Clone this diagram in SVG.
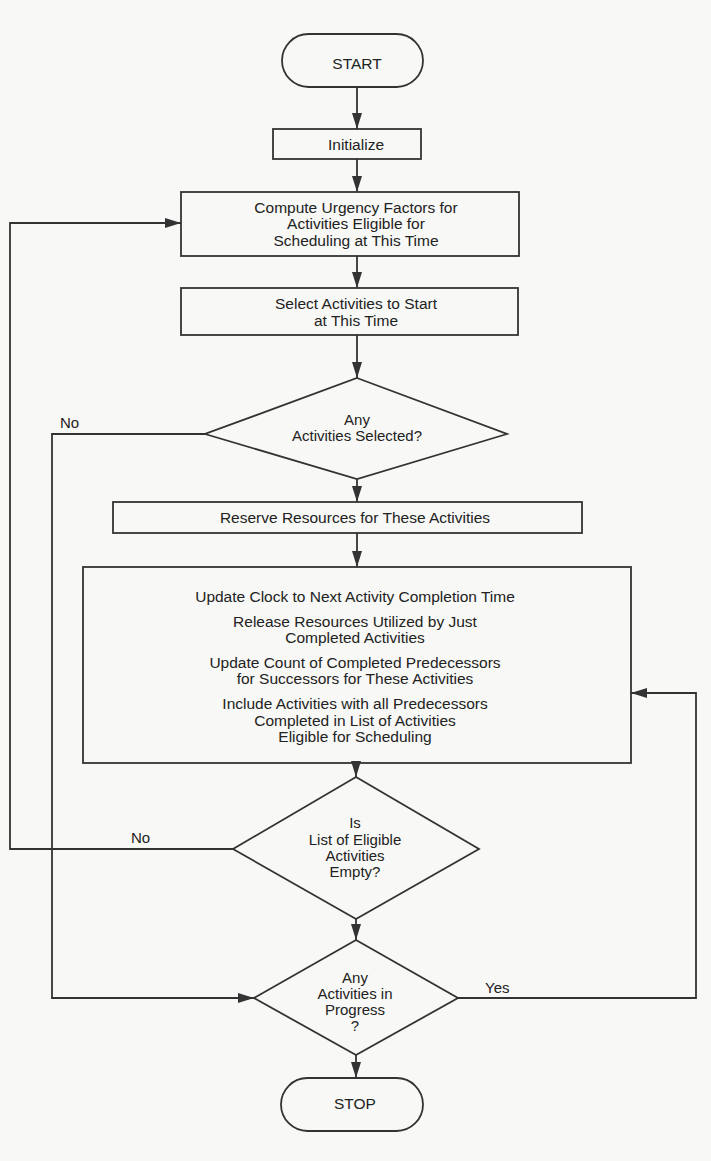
<svg xmlns="http://www.w3.org/2000/svg" width="711" height="1161" viewBox="0 0 711 1161">
<style>
.shape{fill:none;stroke:#333;stroke-width:1.8}
.conn{fill:none;stroke:#333;stroke-width:1.8}
text{font-family:"Liberation Sans",Arial,Helvetica,sans-serif;font-size:15.5px;fill:#222}
.c{text-anchor:middle}
.d{font-size:15px}
</style>
<defs>
<marker id="arr" markerUnits="userSpaceOnUse" markerWidth="18" markerHeight="12" refX="16" refY="5" orient="auto">
<path d="M0,0 L16,5 L0,10 Z" fill="#333"/>
</marker>
</defs>
<rect width="711" height="1161" fill="#f8f8f6"/>
<g id="connectors">
<line class="conn" x1="357" y1="87" x2="357" y2="129" marker-end="url(#arr)"/>
<line class="conn" x1="357" y1="159" x2="357" y2="192" marker-end="url(#arr)"/>
<line class="conn" x1="357" y1="256" x2="357" y2="288" marker-end="url(#arr)"/>
<line class="conn" x1="357" y1="335" x2="357" y2="378" marker-end="url(#arr)"/>
<line class="conn" x1="357" y1="479" x2="357" y2="502" marker-end="url(#arr)"/>
<line class="conn" x1="357" y1="533" x2="357" y2="567" marker-end="url(#arr)"/>
<line class="conn" x1="356" y1="763" x2="356" y2="777" marker-end="url(#arr)"/>
<line class="conn" x1="356" y1="919" x2="356" y2="940" marker-end="url(#arr)"/>
<line class="conn" x1="356" y1="1055" x2="356" y2="1078" marker-end="url(#arr)"/>
<polyline class="conn" points="205,434 52,434 52,998 254,998" marker-end="url(#arr)"/>
<polyline class="conn" points="233,849 10,849 10,223 181,223" marker-end="url(#arr)"/>
<polyline class="conn" points="458,998 696,998 696,693 631,693" marker-end="url(#arr)"/>
<text class="d" x="60" y="428">No</text>
<text class="d" x="131" y="843">No</text>
<text class="d" x="485" y="993">Yes</text>
</g>
<g id="start">
<rect class="shape" x="282" y="34" width="141" height="53" rx="26.5" ry="26.5"/>
<text class="c" x="357" y="69">START</text>
</g>
<g id="initialize">
<rect class="shape" x="273" y="129" width="148" height="30"/>
<text class="c" x="356" y="150">Initialize</text>
</g>
<g id="compute">
<rect class="shape" x="181" y="192" width="338" height="64"/>
<text class="c" x="356" y="212.5">Compute Urgency Factors for</text>
<text class="c" x="356" y="229">Activities Eligible for</text>
<text class="c" x="356" y="245.5">Scheduling at This Time</text>
</g>
<g id="select">
<rect class="shape" x="181" y="288" width="337" height="47"/>
<text class="c" x="356" y="309">Select Activities to Start</text>
<text class="c" x="356" y="326">at This Time</text>
</g>
<g id="anySelected">
<polygon class="shape" points="357,378 507,434 357,479 205,434"/>
<text class="c d" x="357" y="425">Any</text>
<text class="c d" x="357" y="441">Activities Selected?</text>
</g>
<g id="reserve">
<rect class="shape" x="113" y="502" width="469" height="31"/>
<text class="c" x="355" y="523">Reserve Resources for These Activities</text>
</g>
<g id="update">
<rect class="shape" x="83" y="567" width="548" height="196"/>
<text class="c" x="355" y="602">Update Clock to Next Activity Completion Time</text>
<text class="c" x="355" y="627">Release Resources Utilized by Just</text>
<text class="c" x="355" y="643">Completed Activities</text>
<text class="c" x="355" y="668">Update Count of Completed Predecessors</text>
<text class="c" x="355" y="684">for Successors for These Activities</text>
<text class="c" x="355" y="709">Include Activities with all Predecessors</text>
<text class="c" x="355" y="725.5">Completed in List of Activities</text>
<text class="c" x="355" y="742">Eligible for Scheduling</text>
</g>
<g id="listEmpty">
<polygon class="shape" points="356,777 479,849 356,919 233,849"/>
<text class="c d" x="355" y="828">Is</text>
<text class="c d" x="355" y="844.5">List of Eligible</text>
<text class="c d" x="355" y="861">Activities</text>
<text class="c d" x="355" y="877">Empty?</text>
</g>
<g id="inProgress">
<polygon class="shape" points="356,940 458,998 356,1055 254,998"/>
<text class="c d" x="355" y="983">Any</text>
<text class="c d" x="355" y="999">Activities in</text>
<text class="c d" x="355" y="1015">Progress</text>
<text class="c d" x="355" y="1031">?</text>
</g>
<g id="stop">
<rect class="shape" x="281" y="1078" width="142" height="53" rx="26.5" ry="26.5"/>
<text class="c" x="355" y="1109">STOP</text>
</g>
</svg>
